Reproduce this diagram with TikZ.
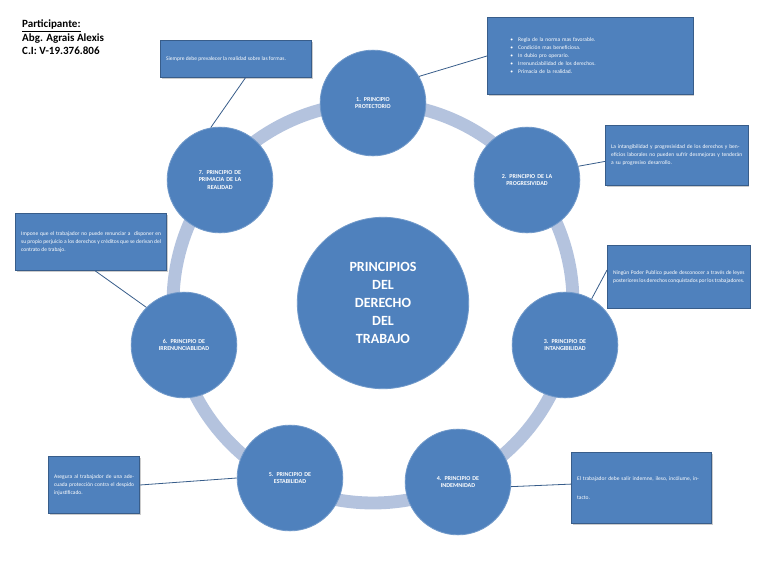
\documentclass[tikz,border=0pt]{standalone}
\usepackage{fontspec}
\setmainfont{Carlito}
\usetikzlibrary{shadows}
\definecolor{azul}{HTML}{4F81BD}
\definecolor{azuloscuro}{HTML}{385D8A}
\definecolor{anillo}{HTML}{B4C3DE}
\tikzset{
  principio/.style={circle,fill=azul,draw=azul!80!white,thick,minimum size=37mm,text=white,font=\fontsize{6}{7}\selectfont\bfseries,align=center,text width=22mm},
  nota/.style={rectangle,fill=azul,draw=azuloscuro,thick,text=white,font=\fontsize{5.5}{8}\selectfont,align=justify,inner sep=2mm,anchor=north west,drop shadow={shadow xshift=0.4mm,shadow yshift=-0.4mm,opacity=0.4}},
  enlace/.style={draw=azuloscuro,thick}
}
\begin{document}
\begin{tikzpicture}[x=0.35mm,y=-0.35mm]
  \useasboundingbox (0,0) rectangle (768,576);

  % ------------- anillo
  \draw[anillo,line width=4.5mm] (373,303) circle (200);

  % ------------- nodo central
  \node[principio,minimum size=60mm,text width=40mm,font=\fontsize{14}{18}\selectfont\bfseries] (centro) at (383,303) {PRINCIPIOS\\DEL\\DERECHO\\DEL\\TRABAJO};

  % ------------- principios
  \node[principio] (p1) at (373,103) {1. PRINCIPIO\\PROTECTORIO};
  \node[principio] (p2) at (527,180) {2. PRINCIPIO DE LA\\PROGRESIVIDAD};
  \node[principio] (p3) at (565,345) {3. PRINCIPIO DE\\INTANGIBILIDAD};
  \node[principio] (p4) at (458,482) {4. PRINCIPIO DE\\INDEMNIDAD};
  \node[principio] (p5) at (290,478) {5. PRINCIPIO DE\\ESTABILIDAD};
  \node[principio] (p6) at (184,345) {6. PRINCIPIO DE\\IRRENUNCIABLIDAD};
  \node[principio] (p7) at (220,180) {7. PRINCIPIO DE\\PRIMACIA DE LA\\REALIDAD};

  % ------------- notas
  \node[nota,text width=68mm,minimum height=27mm,align=left] (n1) at (487,17) {%
    \begin{minipage}{66mm}\begin{itemize}\setlength{\itemsep}{0pt}\setlength{\parskip}{0pt}\setlength{\leftmargin}{6mm}
      \item Regla de la norma mas favorable.
      \item Condición mas beneficiosa.
      \item In dubio pro operario.
      \item Irrenunciabilidad de los derechos.
      \item Primacía de la realidad.
    \end{itemize}\end{minipage}};
  \node[nota,text width=46mm,minimum height=21mm,align=left] (n2) at (605,125) {La intangibilidad y progresividad de los derechos y beneficios laborales no pueden sufrir desmejoras y tenderán a su progresivo desarrollo.};
  \node[nota,text width=46mm,minimum height=22mm] (n3) at (607,245) {Ningún Poder Publico puede desconocer a través de leyes posteriores los derechos conquistados por los trabajadores.};
  \node[nota,text width=45mm,minimum height=25mm,align=left] (n4) at (571,452) {\vspace{4mm}El trabajador debe salir indemne, ileso, incólume, intacto.};
  \node[nota,text width=28mm,minimum height=20mm] (n5) at (48,456) {Asegura al trabajador de una adecuada protección contra el despido injustificado.};
  \node[nota,text width=49mm,minimum height=20mm] (n6) at (15,213) {Impone que el trabajador no puede renunciar a \ disponer en su propio perjuicio a los derechos y créditos que se derivan del contrato de trabajo.};
  \node[nota,text width=49mm,minimum height=13mm] (n7) at (160,40) {Siempre debe prevalecer la realidad sobre las formas.};

  % ------------- enlaces
  \draw[enlace] (p1.30) -- (n1.west);
  \draw[enlace] (p2.15) -- ([yshift=-6]n2.west);
  \draw[enlace] (p3.60) -- ([yshift=-25]n3.north west);
  \draw[enlace] (p4.-5) -- ([yshift=4]n4.west);
  \draw[enlace] (p5.180) -- (n5.east);
  \draw[enlace] (p6.135) -- ([xshift=80]n6.south west);
  \draw[enlace] (p7.100) -- ([xshift=85]n7.south west);

  % ------------- participante
  \node[anchor=north west,align=left,font=\fontsize{11}{13}\selectfont\bfseries,inner sep=0] (part) at (22,20) {\underline{Participante:}\\Abg. Agrais Alexis\\C.I: V-19.376.806};
\end{tikzpicture}
\end{document}
